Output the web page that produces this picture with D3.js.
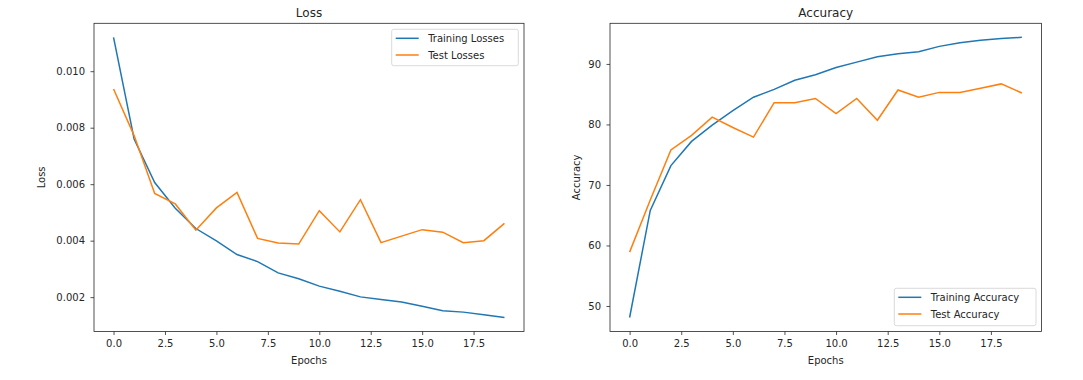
<!DOCTYPE html>
<html><head><meta charset="utf-8">
<script src="https://cdn.jsdelivr.net/npm/d3@7"></script>
<style>
body{margin:0;background:#fff;}
svg{display:block;font-family:"DejaVu Sans",sans-serif;}
</style></head>
<body><svg id="c" width="1083" height="380"></svg>
<script>
const epochs = d3.range(20);
const trainLoss = [0.01120,0.00760,0.00606,0.00515,0.00443,0.00399,0.00351,0.00326,0.00286,0.00265,0.00239,0.00221,0.00201,0.00192,0.00183,0.00168,0.00152,0.00147,0.00138,0.00128];
const testLoss  = [0.00937,0.00772,0.00567,0.00530,0.00437,0.00516,0.00571,0.00408,0.00392,0.00388,0.00506,0.00431,0.00545,0.00393,0.00416,0.00439,0.00430,0.00393,0.00400,0.00461];
const trainAcc = [48.1,65.8,73.2,77.2,79.9,82.3,84.5,85.8,87.3,88.2,89.4,90.3,91.2,91.7,92.0,92.9,93.5,93.9,94.2,94.4];
const testAcc  = [58.9,67.5,75.8,78.2,81.2,79.5,77.9,83.6,83.6,84.3,81.8,84.3,80.7,85.7,84.5,85.3,85.3,86.0,86.7,85.2];
const xTicks = [0,2.5,5,7.5,10,12.5,15,17.5];
const lossTicks = [0.002,0.004,0.006,0.008,0.010];
const accTicks = [50,60,70,80,90];

const svg = d3.select("#c");
const C1 = "#1f77b4", C2 = "#ff7f0e";

function panel(o){
  const g = svg.append("g");
  const x = d3.scaleLinear().domain([-0.95,19.95]).range([o.x0,o.x1]);
  const all = o.s1.concat(o.s2);
  const lo = d3.min(all), hi = d3.max(all), m = (hi-lo)*0.05;
  const y = d3.scaleLinear().domain([lo-m,hi+m]).range([o.y1,o.y0]);
  const ax = g.append("g").attr("transform",`translate(0,${o.y1})`)
    .call(d3.axisBottom(x).tickValues(xTicks).tickFormat(d3.format(".1f")).tickSize(3.5).tickPadding(5));
  const ay = g.append("g").attr("transform",`translate(${o.x0},0)`)
    .call(d3.axisLeft(y).tickValues(o.yt).tickFormat(o.fmt).tickSize(3.5).tickPadding(5.5));
  [ax,ay].forEach(a=>{
    a.select(".domain").remove();
    a.selectAll("text").attr("font-size",10).attr("fill","#262626").attr("font-family","DejaVu Sans");
    a.selectAll("line").attr("stroke","#262626").attr("stroke-width",0.8);
  });
  const line = d3.line().x((d,i)=>x(epochs[i])).y(d=>y(d));
  g.append("path").datum(o.s1).attr("d",line).attr("fill","none").attr("stroke",C1).attr("stroke-width",1.5);
  g.append("path").datum(o.s2).attr("d",line).attr("fill","none").attr("stroke",C2).attr("stroke-width",1.5);
  g.append("rect").attr("x",o.x0).attr("y",o.y0).attr("width",o.x1-o.x0).attr("height",o.y1-o.y0)
    .attr("fill","none").attr("stroke","#262626").attr("stroke-width",0.8);
  g.append("text").attr("x",(o.x0+o.x1)/2).attr("y",o.y0-6).attr("text-anchor","middle")
    .attr("font-size",12).attr("fill","#262626").text(o.title);
  g.append("text").attr("x",(o.x0+o.x1)/2).attr("y",o.y1+32.5).attr("text-anchor","middle")
    .attr("font-size",10).attr("fill","#262626").text("Epochs");
  g.append("text").attr("transform",`translate(${o.ylx},${(o.y0+o.y1)/2}) rotate(-90)`).attr("text-anchor","middle")
    .attr("font-size",10).attr("fill","#262626").text(o.ylabel);
  // legend
  const L = o.leg;
  const lg = g.append("g");
  lg.append("rect").attr("x",L.x).attr("y",L.y).attr("width",L.w).attr("height",L.h).attr("rx",2)
    .attr("fill","#fff").attr("fill-opacity",0.8).attr("stroke","#d0d0d0").attr("stroke-width",0.8);
  [[o.n1,C1],[o.n2,C2]].forEach((e,i)=>{
    const yy = L.y+9+i*16.7;
    lg.append("line").attr("x1",L.x+4).attr("x2",L.x+27).attr("y1",yy).attr("y2",yy).attr("stroke",e[1]).attr("stroke-width",1.5);
    lg.append("text").attr("x",L.x+36.5).attr("y",yy+3.5).attr("font-size",10).attr("fill","#262626").text(e[0]);
  });
}

panel({x0:94,x1:524,y0:23.3,y1:331.5,s1:trainLoss,s2:testLoss,yt:lossTicks,fmt:d3.format(".3f"),
  title:"Loss",ylabel:"Loss",ylx:45,n1:"Training Losses",n2:"Test Losses",
  leg:{x:391.7,y:29.3,w:126.6,h:36.4}});
panel({x0:610,x1:1041.5,y0:23.3,y1:331.5,s1:trainAcc,s2:testAcc,yt:accTicks,fmt:d3.format("d"),
  title:"Accuracy",ylabel:"Accuracy",ylx:580,n1:"Training Accuracy",n2:"Test Accuracy",
  leg:{x:894.3,y:288.3,w:141.7,h:37.4}});
</script></body></html>
